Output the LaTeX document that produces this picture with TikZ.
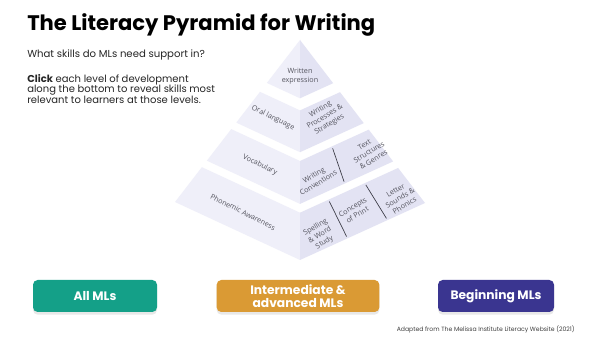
\documentclass[tikz,border=0pt]{standalone}
\usepackage{fontspec}
\setmainfont{Poppins}
\newfontfamily\labfont{Open Sans}
\usetikzlibrary{calc,shadows}
\definecolor{lface}{HTML}{EFEFF9}
\definecolor{rface}{HTML}{E3E3F3}
\definecolor{labcol}{HTML}{55555F}
\definecolor{btnteal}{HTML}{14A088}
\definecolor{btnorange}{HTML}{DA9A34}
\definecolor{btnpurple}{HTML}{3A3590}
\definecolor{divcol}{HTML}{3A3A44}
\tikzset{
  leftface/.style={fill=lface, draw=none},
  rightface/.style={fill=rface, draw=none},
  divline/.style={draw=divcol, line width=0.5pt, shorten <=1.5pt, shorten >=1.5pt},
  lab/.style={font=\labfont\fontsize{5.4}{6.6}\selectfont, text=labcol, align=center, inner sep=0pt},
  btn/.style={rounded corners=3.5pt, minimum height=24pt, text=white, align=center,
    font=\bfseries\fontsize{9.2}{9.8}\selectfont, inner sep=0pt,
    drop shadow={opacity=0.18, shadow xshift=0pt, shadow yshift=-2pt}},
}
\begin{document}
\begin{tikzpicture}[x=0.75pt,y=-0.75pt]
\useasboundingbox[fill=white] (0,0) rectangle (600,338);
% title and text
\node[anchor=base west, inner sep=0pt, font=\bfseries\fontsize{15.8}{18}\selectfont] (title) at (27,31) {The Literacy Pyramid for Writing};
\node[anchor=base west, inner sep=0pt, font=\fontsize{7.6}{8}\selectfont, text=black!85] (q) at (27,58) {What skills do MLs need support in?};
\node[anchor=north west, inner sep=0pt, align=left, font=\fontsize{7.5}{7.9}\selectfont, text=black!85] (instr) at (27,74)
  {\textbf{Click} each level of development\\along the bottom to reveal skills most\\relevant to learners at those levels.};
% pyramid geometry
\coordinate (A) at (300,40);
\coordinate (L) at (175,202);
\coordinate (R) at (425,203);
\coordinate (F) at (300,260);
\foreach \n/\t in {a/0.265, b/0.32, c/0.51, d/0.55, e/0.745, f/0.785}{
  \coordinate (L\n) at ($(A)!\t!(L)$);
  \coordinate (F\n) at ($(A)!\t!(F)$);
  \coordinate (R\n) at ($(A)!\t!(R)$);
}
% tier 1
\path[leftface] (A) -- (La) -- (Fa) -- cycle;
\path[rightface] (A) -- (Fa) -- (Ra) -- cycle;
% tier 2
\path[leftface] (Lb) -- (Fb) -- (Fc) -- (Lc) -- cycle;
\path[rightface] (Fb) -- (Rb) -- (Rc) -- (Fc) -- cycle;
% tier 3
\path[leftface] (Ld) -- (Fd) -- (Fe) -- (Le) -- cycle;
\path[rightface] (Fd) -- (Rd) -- (Re) -- (Fe) -- cycle;
% tier 4
\path[leftface] (Lf) -- (Ff) -- (F) -- (L) -- cycle;
\path[rightface] (Ff) -- (Rf) -- (R) -- (F) -- cycle;
% dividers
\coordinate (d3a) at ($(Fd)!0.465!(Rd)$);
\coordinate (d3b) at ($(Fe)!0.48!(Re)$);
\coordinate (d4a) at ($(Ff)!0.29!(Rf)$);
\coordinate (d4b) at ($(F)!0.38!(R)$);
\coordinate (d5a) at ($(Ff)!0.66!(Rf)$);
\coordinate (d5b) at ($(F)!0.70!(R)$);
\draw[divline] (d3a) -- (d3b);
\draw[divline] (d4a) -- (d4b);
\draw[divline] (d5a) -- (d5b);
% labels
\node[lab] (t1) at (300,76) {Written\\expression};
\node[lab, rotate=-26] (t2l) at (273,118) {Oral language};
\node[lab, rotate=31] (t2r) at (325,117) {Writing\\Processes \&\\Strategies};
\node[lab, rotate=-26] (t3l) at (260,165) {Vocabulary};
\node[lab, rotate=31] (t3r) at (316,179) {Writing\\Conventions};
\node[lab, rotate=31] (t3s) at (369,152) {Text\\Structures\\\& Genres};
\node[lab, rotate=-27] (t4l) at (243,212) {Phonemic Awareness};
\node[lab, rotate=31] (t4a) at (320,235) {Spelling\\\& Word\\Study};
\node[lab, rotate=31] (t4b) at (355,211) {Concepts\\of Print};
\node[lab, rotate=31] (t4c) at (400,198) {Letter\\Sounds \&\\Phonics};
% buttons
\node[btn, fill=btnteal, minimum width=93pt] (b1) at (95,296) {All MLs};
\node[btn, fill=btnorange, minimum width=122pt] (b2) at (298,296) {Intermediate \&\\advanced MLs};
\node[btn, fill=btnpurple, minimum width=87pt] (b3) at (496,296) {Beginning MLs};
% footer
\node[anchor=base east, inner sep=0pt, font=\fontsize{4.6}{5}\selectfont, text=black!75] (foot) at (575,332) {Adapted from The Melissa Institute Literacy Website (2021)};
\end{tikzpicture}
\end{document}
